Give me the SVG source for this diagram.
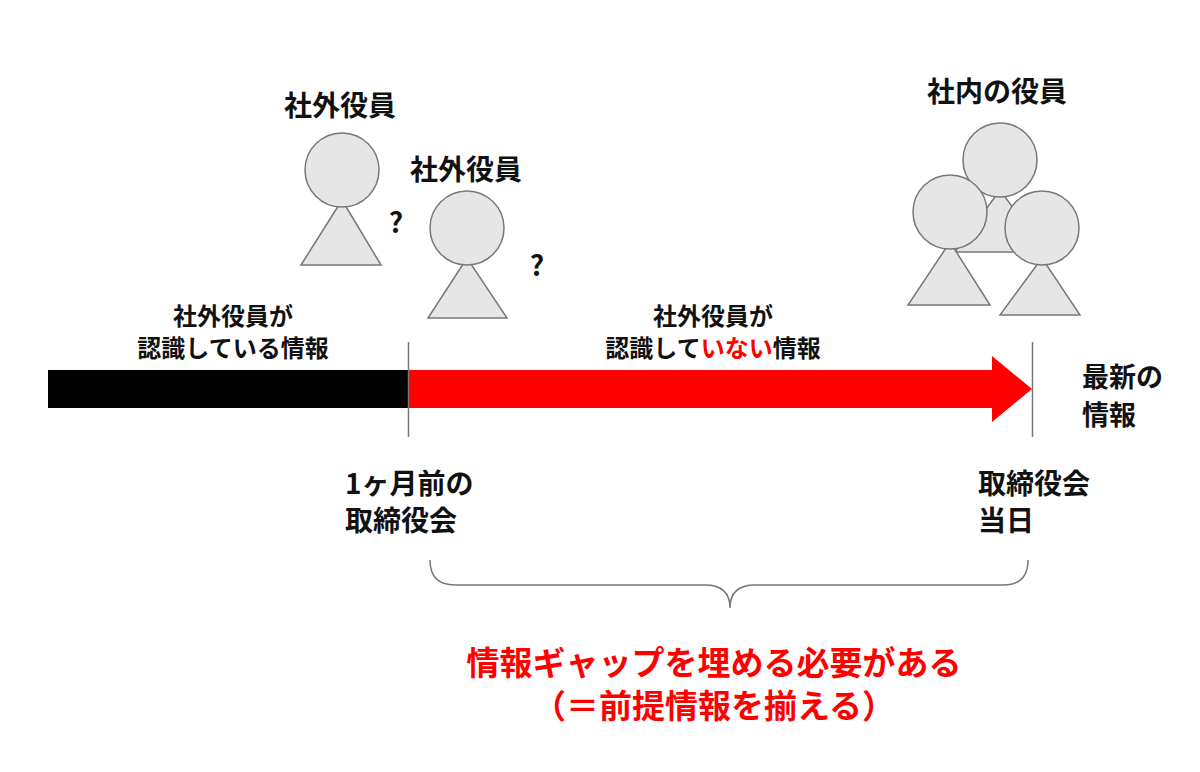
<svg xmlns="http://www.w3.org/2000/svg" width="1200" height="772" viewBox="0 0 1200 772">
<style>
text{font-family:"Noto Sans CJK JP","Noto Sans",sans-serif;font-weight:bold;fill:#111}
.p{fill:#e6e6e6;stroke:#777;stroke-width:1.5}
.v{stroke:#777;stroke-width:1.5}
.r{fill:#ff0000}
</style>
<rect width="1200" height="772" fill="#fff"/>
<g id="connectors">
<rect x="48" y="370" width="361" height="38" fill="#000"/>
<polygon points="408,370 992,370 992,356 1032,389 992,422 992,408 408,408" fill="#ff0000"/>
<line class="v" x1="408.5" y1="342" x2="408.5" y2="437"/>
<line class="v" x1="1032.5" y1="342" x2="1032.5" y2="437"/>
<path d="M430,560 Q430,585 455,585 L705,585 Q730,585 730,608 Q730,585 755,585 L1003,585 Q1028,585 1028,560" fill="none" stroke="#777" stroke-width="1.5"/>
</g>
<g id="person1">
<polygon class="p" points="342,200 301,265 381,265"/><circle class="p" cx="342" cy="170" r="37"/>
<text x="340" y="116" font-size="28" text-anchor="middle">社外役員</text>
<text x="396" y="233" font-size="28" text-anchor="middle">?</text>
</g>
<g id="person2">
<polygon class="p" points="467,258 428,318 507,318"/><circle class="p" cx="467" cy="228" r="37"/>
<text x="466" y="180" font-size="28" text-anchor="middle">社外役員</text>
<text x="537" y="276" font-size="28" text-anchor="middle">?</text>
</g>
<g id="insiders">
<polygon class="p" points="1000,190 955,252 1045,252"/><circle class="p" cx="1000" cy="160" r="37"/>
<polygon class="p" points="950,242 908,305 990,305"/><circle class="p" cx="950" cy="212" r="37"/>
<polygon class="p" points="1042,258 1000,315 1080,315"/><circle class="p" cx="1042" cy="228" r="37"/>
<text x="997" y="102" font-size="28" text-anchor="middle">社内の役員</text>
</g>
<g id="labels">
<text x="233" y="325" font-size="24" text-anchor="middle">社外役員が</text>
<text x="233" y="357" font-size="24" text-anchor="middle">認識している情報</text>
<text x="713" y="325" font-size="24" text-anchor="middle">社外役員が</text>
<text x="713" y="357" font-size="24" text-anchor="middle">認識して<tspan class="r">いない</tspan>情報</text>
<text x="1082" y="387" font-size="27">最新の</text>
<text x="1082" y="425" font-size="27">情報</text>
<text x="345" y="494" font-size="28">1ヶ月前の</text>
<text x="345" y="531" font-size="28">取締役会</text>
<text x="978" y="494" font-size="28">取締役会</text>
<text x="978" y="531" font-size="28">当日</text>
<text x="714" y="675" font-size="33" text-anchor="middle" class="r">情報ギャップを埋める必要がある</text>
<text x="714" y="718" font-size="33" text-anchor="middle" class="r">（＝前提情報を揃える）</text>
</g>
</svg>
